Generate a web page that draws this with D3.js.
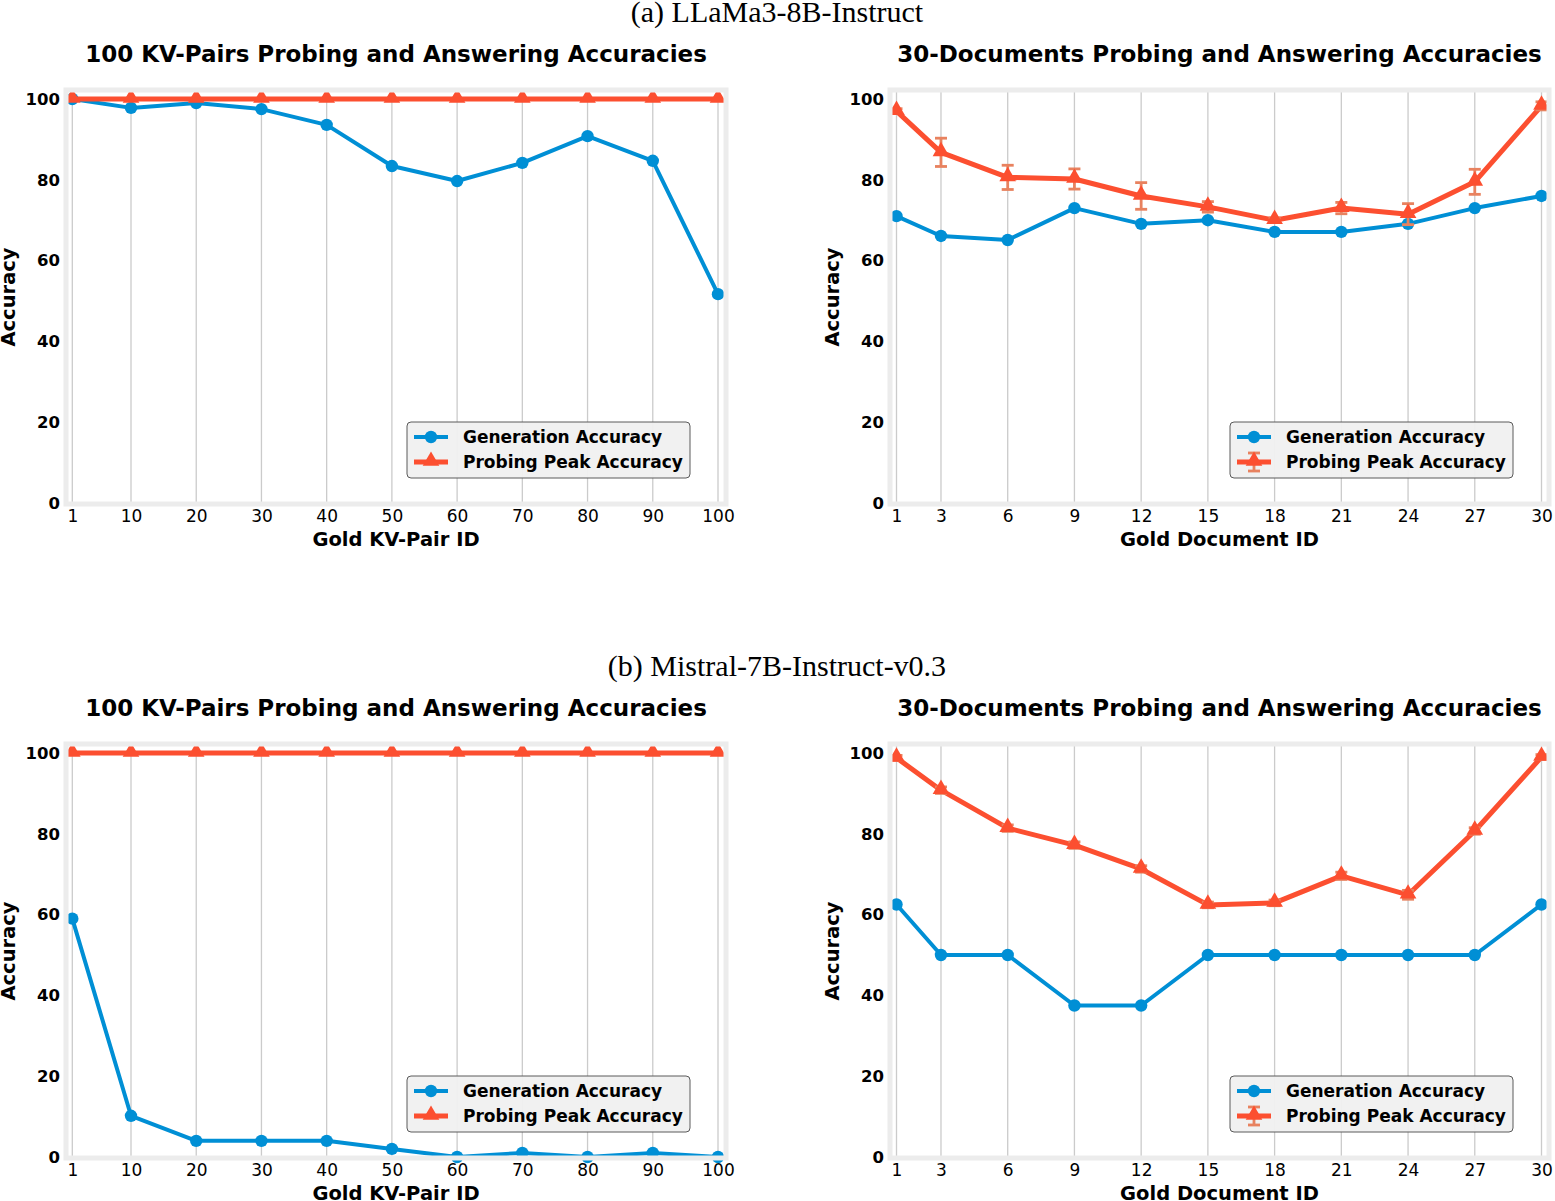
<!DOCTYPE html>
<html>
<head>
<meta charset="utf-8">
<script src="https://cdn.jsdelivr.net/npm/d3@7"></script>
<style>
  body { margin: 0; background: #ffffff; }
  svg { display: block; }
</style>
</head>
<body>
<svg id="chart" width="1555" height="1201"></svg>
<script>
// ---------------- DATA ----------------
const kvIds = [1, 10, 20, 30, 40, 50, 60, 70, 80, 90, 100];
const docIds = [1, 3, 6, 9, 12, 15, 18, 21, 24, 27, 30];
const yTicks = [0, 20, 40, 60, 80, 100];

const groupTitles = ["(a) LLaMa3-8B-Instruct", "(b) Mistral-7B-Instruct-v0.3"];
const kvTitle = "100 KV-Pairs Probing and Answering Accuracies";
const docTitle = "30-Documents Probing and Answering Accuracies";
const kvXLabel = "Gold KV-Pair ID";
const docXLabel = "Gold Document ID";
const yLabel = "Accuracy";
const seriesNames = ["Generation Accuracy", "Probing Peak Accuracy"];

// (a) LLaMa3-8B-Instruct
const llamaKvGen   = [100, 97.8, 99.0, 97.5, 93.6, 83.4, 79.7, 84.2, 90.8, 84.7, 51.7];
const llamaKvProbe = [100, 100, 100, 100, 100, 100, 100, 100, 100, 100, 100];
const llamaDocGen      = [71.0, 66.1, 65.1, 73.0, 69.1, 70.0, 67.1, 67.1, 69.1, 73.0, 76.0];
const llamaDocProbe    = [97.0, 86.8, 80.6, 80.2, 76.0, 73.3, 70.0, 73.0, 71.5, 79.5, 98.3];
const llamaDocProbeErr = [0.6, 3.5, 3.0, 2.5, 3.3, 1.3, 0.6, 1.4, 2.6, 3.1, 1.0];

// (b) Mistral-7B-Instruct-v0.3
const mistralKvGen   = [59.0, 10.2, 4.0, 4.0, 4.0, 2.0, 0, 1.0, 0, 1.0, 0];
const mistralKvProbe = [100, 100, 100, 100, 100, 100, 100, 100, 100, 100, 100];
const mistralDocGen      = [62.5, 50, 50, 37.5, 37.5, 50, 50, 50, 50, 50, 62.5];
const mistralDocProbe    = [98.8, 90.8, 81.4, 77.2, 71.3, 62.4, 62.9, 69.6, 64.9, 80.7, 99.0];
const mistralDocProbeErr = [0.6, 0.8, 0.8, 0.8, 0.8, 0.7, 0.7, 0.9, 1.1, 0.8, 0.6];

// ---------------- STYLE ----------------
const BLUE = "#008fd5";
const RED = "#fc4f30";
const ERR = "#e8825f";
const FRAME = "#ececec";
const GRID = "#cbcbcb";
const SANS = "'DejaVu Sans', Verdana, sans-serif";
const SERIF = "'Liberation Serif', 'Times New Roman', serif";

const svg = d3.select("#chart");

// panel geometry (layout)
const colGeom = [
  { frameL: 66, frameR: 726, x0: 72.3, x1: 718 },
  { frameL: 890, frameR: 1549, x0: 896.5, x1: 1541.5 }
];
const rowOffset = [0, 654];
const baseY = { frameT: 90, frameB: 504, y0: 503, y100: 99 };

const panels = [
  { row: 0, col: 0, ids: kvIds, gen: llamaKvGen, probe: llamaKvProbe, err: null, title: kvTitle, xlabel: kvXLabel },
  { row: 0, col: 1, ids: docIds, gen: llamaDocGen, probe: llamaDocProbe, err: llamaDocProbeErr, title: docTitle, xlabel: docXLabel },
  { row: 1, col: 0, ids: kvIds, gen: mistralKvGen, probe: mistralKvProbe, err: null, title: kvTitle, xlabel: kvXLabel },
  { row: 1, col: 1, ids: docIds, gen: mistralDocGen, probe: mistralDocProbe, err: mistralDocProbeErr, title: docTitle, xlabel: docXLabel }
];

// group titles
groupTitles.forEach((t, i) => {
  svg.append("text")
    .attr("x", 777).attr("y", 22 + rowOffset[i])
    .attr("text-anchor", "middle")
    .attr("font-family", SERIF).attr("font-size", 30)
    .attr("fill", "#000")
    .text(t);
});

const tri = d3.symbol().type(d3.symbolTriangle).size(120);

panels.forEach(p => {
  const g = colGeom[p.col];
  const off = rowOffset[p.row];
  const frameT = baseY.frameT + off, frameB = baseY.frameB + off;
  const x = d3.scaleLinear().domain([p.ids[0], p.ids[p.ids.length - 1]]).range([g.x0, g.x1]);
  const y = d3.scaleLinear().domain([0, 100]).range([baseY.y0 + off, baseY.y100 + off]);
  const cx = (g.frameL + g.frameR) / 2;

  const pg = svg.append("g");

  // title
  pg.append("text")
    .attr("x", cx).attr("y", 62 + off)
    .attr("text-anchor", "middle")
    .attr("font-family", SANS).attr("font-weight", "bold").attr("font-size", 23)
    .text(p.title);

  // vertical grid
  pg.append("g").selectAll("line").data(p.ids).join("line")
    .attr("x1", d => x(d)).attr("x2", d => x(d))
    .attr("y1", frameT).attr("y2", frameB)
    .attr("stroke", GRID).attr("stroke-width", 1.3);

  // x axis tick labels (via d3 axis)
  const xAxis = d3.axisBottom(x).tickValues(p.ids).tickSize(0).tickPadding(0).tickFormat(d3.format("d"));
  const xa = pg.append("g").attr("transform", `translate(0,${baseY.y0 + off + 3})`).call(xAxis);
  xa.select(".domain").remove();
  xa.selectAll("text")
    .attr("font-family", SANS).attr("font-size", 17).attr("fill", "#000")
    .attr("dy", "0.95em");

  // y axis labels
  const yAxis = d3.axisLeft(y).tickValues(yTicks).tickSize(0).tickPadding(0).tickFormat(d3.format("d"));
  const ya = pg.append("g").attr("transform", `translate(${g.frameL - 6},0)`).call(yAxis);
  ya.select(".domain").remove();
  ya.selectAll("text")
    .attr("font-family", SANS).attr("font-weight", "bold").attr("font-size", 16.5).attr("fill", "#000");

  // axis labels
  pg.append("text")
    .attr("x", cx).attr("y", 546 + off)
    .attr("text-anchor", "middle")
    .attr("font-family", SANS).attr("font-weight", "bold").attr("font-size", 19.5)
    .text(p.xlabel);
  pg.append("text")
    .attr("transform", `translate(${g.frameL - 51},${(frameT + frameB) / 2}) rotate(-90)`)
    .attr("text-anchor", "middle")
    .attr("font-family", SANS).attr("font-weight", "bold").attr("font-size", 19.5)
    .text(yLabel);

  const line = d3.line().x((d, i) => x(p.ids[i])).y(d => y(d));

  // generation series
  pg.append("path").datum(p.gen)
    .attr("d", line).attr("fill", "none")
    .attr("stroke", BLUE).attr("stroke-width", 4).attr("stroke-linejoin", "round");
  pg.append("g").selectAll("circle").data(p.gen).join("circle")
    .attr("cx", (d, i) => x(p.ids[i])).attr("cy", d => y(d)).attr("r", 6.2)
    .attr("fill", BLUE);

  // probing series
  pg.append("path").datum(p.probe)
    .attr("d", line).attr("fill", "none")
    .attr("stroke", RED).attr("stroke-width", 5).attr("stroke-linejoin", "round");
  if (p.err) {
    const eg = pg.append("g").attr("stroke", ERR).attr("stroke-width", 2.8);
    p.probe.forEach((v, i) => {
      const xx = x(p.ids[i]);
      const yt = y(v + p.err[i]), yb = y(v - p.err[i]);
      eg.append("line").attr("x1", xx).attr("x2", xx).attr("y1", yt).attr("y2", yb);
      eg.append("line").attr("x1", xx - 6).attr("x2", xx + 6).attr("y1", yt).attr("y2", yt);
      eg.append("line").attr("x1", xx - 6).attr("x2", xx + 6).attr("y1", yb).attr("y2", yb);
    });
  }
  pg.append("g").selectAll("path").data(p.probe).join("path")
    .attr("d", tri)
    .attr("transform", (d, i) => `translate(${x(p.ids[i])},${y(d) - 1})`)
    .attr("fill", RED);

  // frame (spines) on top
  pg.append("rect")
    .attr("x", g.frameL).attr("y", frameT)
    .attr("width", g.frameR - g.frameL).attr("height", frameB - frameT)
    .attr("fill", "none").attr("stroke", FRAME).attr("stroke-width", 5);

  // legend
  const lw = 283, lh = 56;
  const lx = g.frameR - 36 - lw, ly = frameB - 26 - lh;
  const lg = pg.append("g").attr("transform", `translate(${lx},${ly})`);
  lg.append("rect").attr("width", lw).attr("height", lh).attr("rx", 4)
    .attr("fill", "#f0f0f0").attr("fill-opacity", 0.95)
    .attr("stroke", "#5a5a5a").attr("stroke-width", 1);
  const rows = [15, 40];
  // generation entry
  lg.append("line").attr("x1", 7).attr("x2", 41).attr("y1", rows[0]).attr("y2", rows[0])
    .attr("stroke", BLUE).attr("stroke-width", 4);
  lg.append("circle").attr("cx", 24).attr("cy", rows[0]).attr("r", 6.2).attr("fill", BLUE);
  // probing entry
  lg.append("line").attr("x1", 7).attr("x2", 41).attr("y1", rows[1]).attr("y2", rows[1])
    .attr("stroke", RED).attr("stroke-width", 5);
  if (p.err) {
    const le = lg.append("g").attr("stroke", ERR).attr("stroke-width", 2.8);
    le.append("line").attr("x1", 24).attr("x2", 24).attr("y1", rows[1] - 9).attr("y2", rows[1] + 9);
    le.append("line").attr("x1", 18).attr("x2", 30).attr("y1", rows[1] - 9).attr("y2", rows[1] - 9);
    le.append("line").attr("x1", 18).attr("x2", 30).attr("y1", rows[1] + 9).attr("y2", rows[1] + 9);
  }
  lg.append("path").attr("d", tri).attr("transform", `translate(24,${rows[1] - 1})`).attr("fill", RED);
  seriesNames.forEach((s, i) => {
    lg.append("text").attr("x", 56).attr("y", rows[i] + 6)
      .attr("font-family", SANS).attr("font-weight", "bold").attr("font-size", 17)
      .text(s);
  });
});
</script>
</body>
</html>
